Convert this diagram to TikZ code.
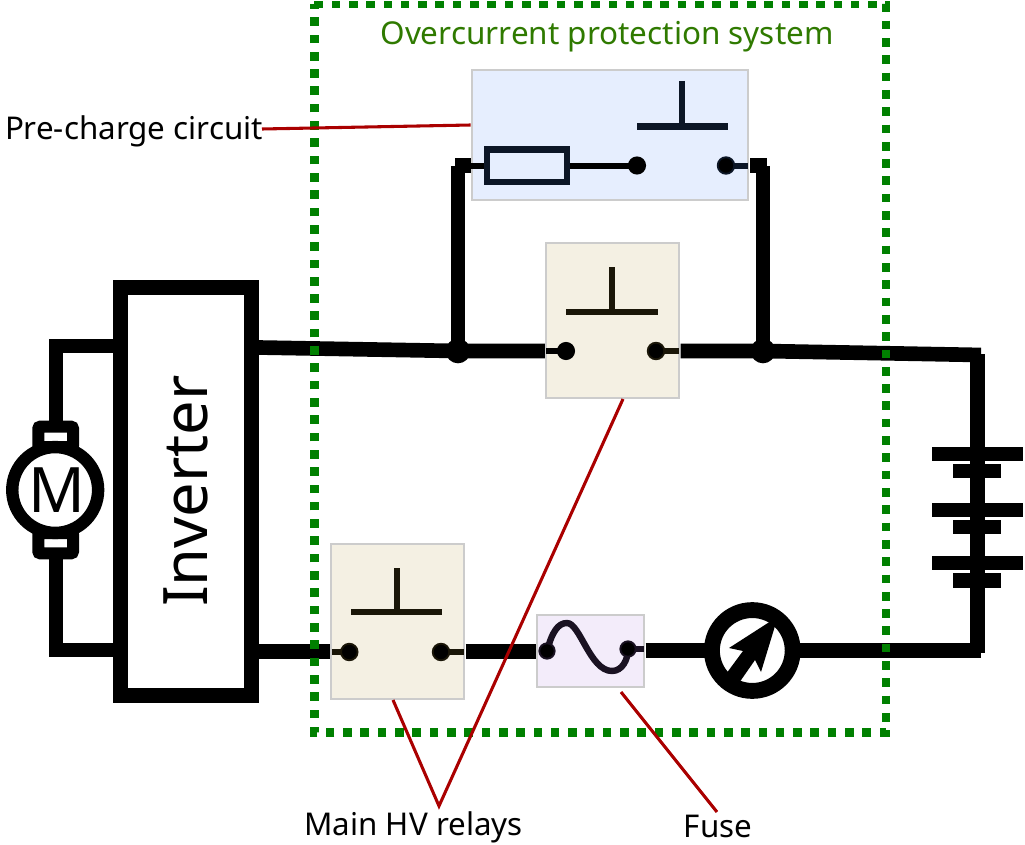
\documentclass[tikz,border=0pt]{standalone}
\usepackage{fontspec}
\setmainfont{Noto Sans}
\definecolor{rd}{HTML}{AA0000}
\definecolor{grn}{HTML}{008000}
\definecolor{ttl}{HTML}{2F7A00}
\definecolor{bluebox}{HTML}{E6EEFE}
\definecolor{beigebox}{HTML}{F4F0E3}
\definecolor{lilacbox}{HTML}{F3ECFA}
\definecolor{edgegray}{HTML}{CCCCCC}
\definecolor{inkb}{HTML}{0C1626}
\definecolor{inky}{HTML}{1A1608}
\definecolor{inkl}{HTML}{1A1222}
\newcommand{\fsz}[1]{\fontsize{#1}{#1}\selectfont}
\tikzset{
  x=0.75pt,y=-0.75pt,
  wire/.style={line width=11pt},
  thin wire/.style={line width=4.9pt},
  leader/.style={rd,line width=2.3pt},
  panel/.style={draw=edgegray,line width=1.5pt,minimum width=#1,inner sep=0pt,anchor=north west},
  lbl/.style={inner sep=0pt,anchor=center},
  term/.style={circle,fill=black,inner sep=0pt,minimum size=13.6pt},
  tinted/.style={circle,fill=black,draw=#1,line width=1.4pt,inner sep=0pt,minimum size=12.4pt},
  junction/.style={circle,fill=black,inner sep=0pt,minimum size=18.5pt},
}
\begin{document}
\begin{tikzpicture}
\useasboundingbox (0,0) rectangle (1025,845);
% named points
\coordinate (invTR) at (258,347.5); \coordinate (invBR) at (258,651.5);
\coordinate (j1) at (458,351); \coordinate (j2) at (763,351);
\coordinate (cornerTR) at (981,355); \coordinate (cornerBR) at (981,650.5);
\coordinate (vTR) at (977.5,354); \coordinate (vBR) at (977.5,653);
\coordinate (mTop) at (56,346); \coordinate (mBot) at (56,650);
\coordinate (invTL) at (114,346); \coordinate (invBL) at (114,650);
\coordinate (hvApex) at (439,806);
\coordinate (ampC) at (752.3,650.5);
\coordinate (stubL) at (455,165.5); \coordinate (stubLe) at (471,165.5);
\coordinate (stubR) at (750,165.5); \coordinate (stubRe) at (767,165.5);
\coordinate (upL) at (458,166); \coordinate (upR) at (763,166);
% main wires
\draw[wire] (invTR) -- (j1) -- (545,351);
\draw[wire] (680.7,351) -- (j2) -- (cornerTR);
\draw[wire] (vTR) -- (vBR);
\draw[wire] (cornerBR) -- (ampC);
\draw[wire] (invBR) -- (330,651.5);
\draw[wire] (465.7,651.5) -- (536,651.5);
\draw[wire] (645.5,650.5) -- (ampC);
\draw[wire,line cap=rect] (invTL) -- (mTop) -- (mBot) -- (invBL);
\draw[wire] (upL) -- (j1);
\draw[wire] (upR) -- (j2);
\draw[wire] (stubL) -- (stubLe);
\draw[wire] (stubR) -- (stubRe);
\node[junction] at (j1) {}; \node[junction] at (j2) {};
% protection frame
\begin{scope}
\clip (0,1.7) rectangle (1025,845);
\draw[grn,line width=6.4pt,dash pattern=on 6.49pt off 6.49pt] (314.3,4) -- (886,4) -- (886,732.6) -- (314.3,732.6) -- cycle;
\end{scope}
% panels
\node[panel=207.5pt,minimum height=97.7pt,fill=bluebox] (pre) at (470.7,68.7) {};
\node[panel=99.75pt,minimum height=116.25pt,fill=beigebox] (rel1) at (545.3,242.3) {};
\node[panel=99.75pt,minimum height=116.25pt,fill=beigebox] (rel2) at (330.3,543.3) {};
\node[panel=80.7pt,minimum height=54pt,fill=lilacbox] (fuse) at (535.7,614.3) {};
% pre-charge contents
\begin{scope}[inkb]
\draw[thin wire,black] (471,166) -- (485,166);
\draw[thin wire,black] (568,166) -- (637,166);
\draw[line width=4.9pt,fill=bluebox] (487,149.5) rectangle (567,182);
\draw[line width=5pt] (682,81) -- (682,126);
\draw[line width=5.2pt] (637,126.5) -- (728,126.5);
\draw[thin wire] (726,166) -- (748,166);
\end{scope}
\node[term] at (637,165.5) {}; \node[tinted=inkb] at (726,165.5) {};
% relay 1
\begin{scope}[inky]
\draw[line width=5pt] (612,267) -- (612,310);
\draw[line width=5.2pt] (566,312) -- (658,312);
\draw[thin wire,black] (546,351) -- (566,351);
\draw[thin wire] (656,351) -- (679,351);
\end{scope}
\node[term] at (566,351) {}; \node[tinted=inky] at (656,351) {};
% relay 2
\begin{scope}[inky]
\draw[line width=5pt] (397,568) -- (397,610);
\draw[line width=5.2pt] (351,612) -- (442,612);
\draw[thin wire] (331.7,652) -- (349,652);
\draw[thin wire] (441,652) -- (464,652);
\end{scope}
\node[tinted=inky] at (349.3,652) {}; \node[tinted=inky] at (441,652) {};
% fuse
\draw[inkl,line width=4.8pt,line cap=round] (547,651) .. controls (552,632) and (558,623) .. (567,623)
  .. controls (580,623) and (590,671) .. (612,671) .. controls (622,671) and (628,660) .. (628,649);
\draw[inkl,thin wire] (628,649) -- (644,649);
\node[tinted=inkl,minimum size=11.5pt] at (547,651) {}; \node[tinted=inkl,minimum size=11.5pt] at (628,649) {};
% inverter
\node[draw=black,fill=white,line width=11pt,minimum width=98.5pt,minimum height=306.3pt,inner sep=0pt] (inv) at (186,491.5) {};
\node[lbl,rotate=90] at (186,491) {\fsz{46}Inverter};
% motor
\draw[line width=9pt,fill=white,rounded corners=1.5pt] (38.3,426.7) rectangle (73,447);
\draw[line width=9pt,fill=white,rounded corners=1.5pt] (38.3,533) rectangle (73,553.3);
\node[circle,draw=black,fill=white,line width=9.3pt,minimum size=64.4pt,inner sep=0pt] (motor) at (55.2,490) {};
\node[lbl] at (57,490) {\fsz{47}M};
% ammeter
\node[circle,draw=black,fill=white,line width=11.9pt,minimum size=60.6pt,inner sep=0pt] (amm) at (ampC) {};
\fill (771,621) -- (729,648) -- (743,651) -- (726,674) -- (739,683) -- (755,660) -- (761,672) -- (775,626) -- cycle;
% battery
\foreach \a in {447,503,556} \fill (932,\a) rectangle (1023,\a+14);
\foreach \a in {463.5,519.5,573} \fill (953,\a) rectangle (1001,\a+14.5);
% leaders
\draw[leader] (pre.west |- 0,125) -- (262,129);
\draw[leader] (393,700) -- (hvApex) -- (623,399);
\draw[leader] (621,692) -- (717,812);
% labels
\node[lbl,ttl] at (607,37) {\fsz{23.6}Overcurrent protection system};
\node[lbl] at (134,131) {\fsz{23.5}Pre-charge circuit};
\node[lbl] at (413.5,827) {\fsz{23.5}Main HV relays};
\node[lbl] at (718,826) {\fsz{23.5}Fuse};
\end{tikzpicture}
\end{document}
